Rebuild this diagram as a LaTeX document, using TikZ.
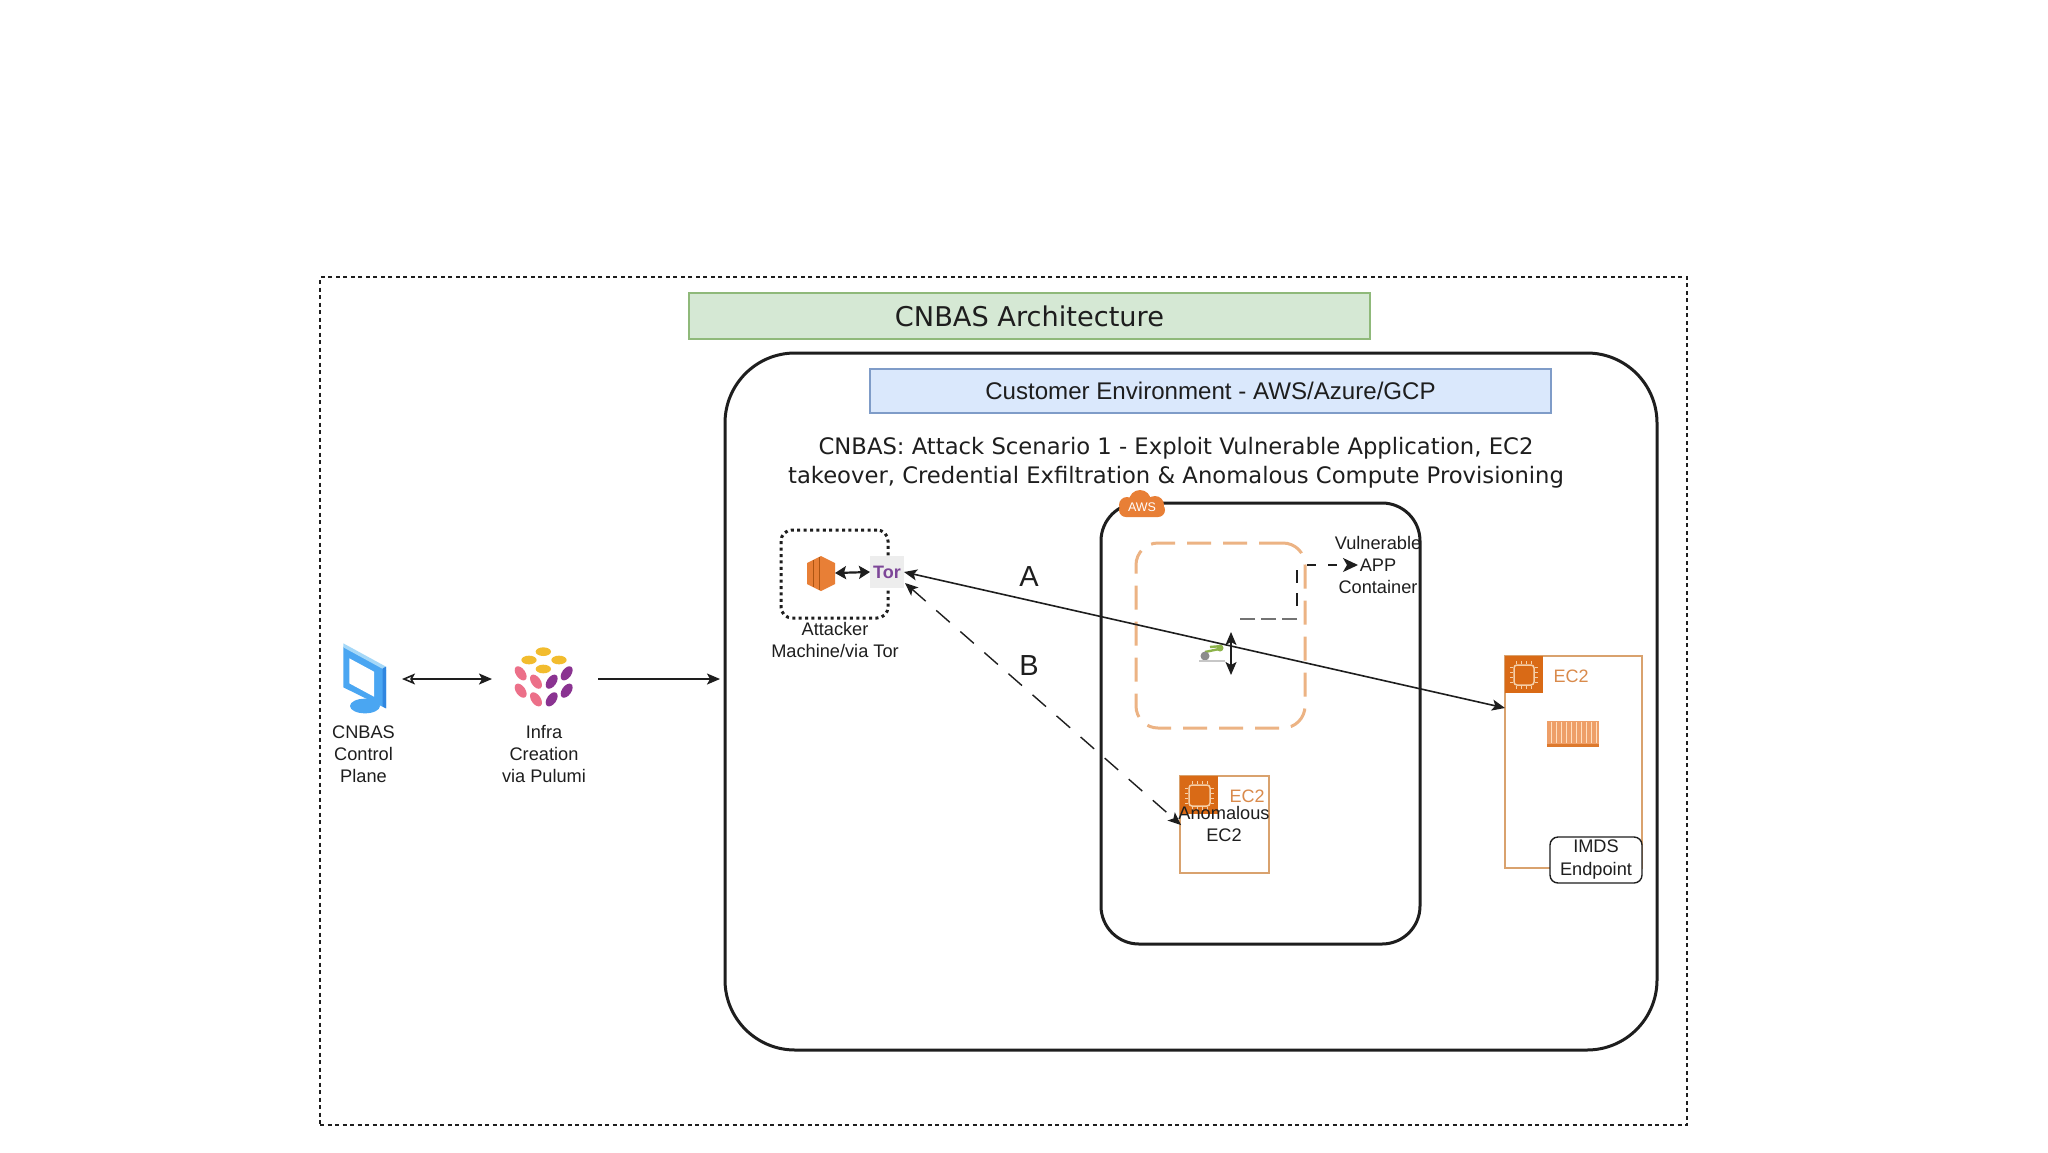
\documentclass[tikz,border=0pt]{standalone}
\usepackage{fontspec}
\setmainfont{Liberation Sans}
\newfontfamily\dvfont{DejaVu Sans}
\usetikzlibrary{arrows.meta}
\definecolor{ink}{HTML}{1E1E1E}
\definecolor{awsorange}{HTML}{D96A16}
\definecolor{softorange}{HTML}{D9A26E}
\definecolor{ec2text}{HTML}{D98A4B}
\definecolor{chipline}{HTML}{F5CFA8}
\definecolor{dashorange}{HTML}{ECB384}
\definecolor{cloudorange}{HTML}{E87F36}
\definecolor{greenfill}{HTML}{D5E8D4}
\definecolor{greenline}{HTML}{8FB97A}
\definecolor{bluefill}{HTML}{DAE8FC}
\definecolor{blueline}{HTML}{7F9CC8}
\definecolor{torpurple}{HTML}{7D4698}
\definecolor{pulyellow}{HTML}{F2BC2E}
\definecolor{pulpink}{HTML}{EC7089}
\definecolor{pulpurple}{HTML}{8A3391}
\definecolor{monframe}{HTML}{4AA6F2}
\definecolor{monedge}{HTML}{A5D8F8}
\definecolor{monside}{HTML}{2F86E0}
\definecolor{keygreen}{HTML}{8DB34A}
\tikzset{
  x=1pt,y=-1pt,
  box/.style={draw=#1,outer sep=0pt,inner sep=0pt},
  txt/.style={inner sep=0pt,outer sep=0pt,align=center,text=ink,font=\fontsize{18.2}{22}\selectfont},
  conn/.style={draw=ink,line width=1.6pt},
  tip/.style={-{Stealth[length=13pt,width=11pt,inset=3pt]}},
  bothtips/.style={{Stealth[length=13pt,width=11pt,inset=3pt]}-{Stealth[length=13pt,width=11pt,inset=3pt]}},
}
\begin{document}
\begin{tikzpicture}
\useasboundingbox[fill=white] (0,0) rectangle (2048,1152);

% frames
\node[box=ink,line width=1.1pt,dash pattern=on 4pt off 3.5pt,minimum width=1367pt,minimum height=848pt] (outer) at (1003.5,701) {};
\node[box=greenline,fill=greenfill,line width=1.3pt,minimum width=681pt,minimum height=46pt,font=\dvfont\fontsize{27.2}{30}\selectfont,text=ink] (title) at (1029.5,316) {CNBAS Architecture};
\node[box=ink,line width=3pt,rounded corners=70pt,minimum width=932pt,minimum height=697pt] (cust) at (1191,701.5) {};
\node[box=blueline,fill=bluefill,line width=1.3pt,minimum width=681pt,minimum height=44pt,font=\fontsize{24.1}{30}\selectfont,text=ink] (custbar) at (1210.5,391) {Customer Environment - AWS/Azure/GCP};
\node[txt,font=\dvfont\fontsize{22.7}{29}\selectfont] (scenario) at (1176,463) {CNBAS: Attack Scenario 1 - Exploit Vulnerable Application, EC2\\takeover, Credential Exfiltration \& Anomalous Compute Provisioning};
\node[box=ink,line width=3pt,rounded corners=38pt,minimum width=319pt,minimum height=441pt] (awsbox) at (1260.5,723.5) {};
\node[box=dashorange,line width=3pt,dash pattern=on 24pt off 12pt,rounded corners=22pt,minimum width=169pt,minimum height=185pt] (vuln) at (1220.5,635.5) {};

% AWS cloud
\fill[cloudorange,rounded corners=7pt] (1119,503) rectangle (1165,517);
\fill[cloudorange] (1140,501) circle (11) (1127,505) circle (8) (1155,505) circle (9);
\node[inner sep=0pt,text=white,font=\fontsize{12.5}{14}\selectfont] (awslabel) at (1142,507) {AWS};

% Control plane icon
\begin{scope}[shift={(300,600)},scale=1/3]
  \fill[monframe] (195,318) ellipse (45 and 22);
  \fill[monframe] (130,140) -- (258,210) -- (258,325) -- (130,262) -- cycle;
  \fill[monedge] (130,130) -- (258,200) -- (258,212) -- (130,142) -- cycle;
  \fill[monside] (248,205) -- (258,200) -- (258,325) -- (248,320) -- cycle;
  \fill[white] (148,175) -- (222,215) -- (222,290) -- (148,250) -- cycle;
\end{scope}
\node[minimum width=44pt,minimum height=70pt,inner sep=0pt,outer sep=0pt] (cpicon) at (365,678) {};
\node[txt] (cplabel) at (363.5,754) {CNBAS\\Control\\Plane};

% Pulumi icon
\begin{scope}[shift={(300,600)},scale=1/3]
  \foreach \p in {(730,155),(687,180),(777,180),(730,207)}
    \fill[pulyellow] \p ellipse (23 and 13);
  \foreach \p in {(662,220),(708,245),(662,272),(708,298)}
    \fill[pulpink,shift={\p},rotate=-55] (0,0) ellipse (24 and 14);
  \foreach \p in {(800,220),(755,245),(800,272),(755,298)}
    \fill[pulpurple,shift={\p},rotate=55] (0,0) ellipse (24 and 14);
\end{scope}
\node[minimum width=60pt,minimum height=62pt,inner sep=0pt,outer sep=0pt] (pulicon) at (544,677) {};
\node[txt] (pullabel) at (544,754) {Infra\\Creation\\via Pulumi};

% Attacker
\node[box=ink,line width=3pt,dash pattern=on 3pt off 3.4pt,rounded corners=11pt,minimum width=107pt,minimum height=88pt] (attacker) at (834.5,574) {};
\node[minimum width=28pt,minimum height=34pt,inner sep=0pt,outer sep=0pt] (hex) at (821,573) {};
\fill[cloudorange] (807,563) -- (821,556) -- (835,563) -- (835,584) -- (821,591) -- (807,584) -- cycle;
\draw[awsorange!80!black,line width=1pt] (813,560) -- (813,587) (819,557) -- (819,590);
\node[fill=black!7,inner sep=0pt,outer sep=0pt,minimum width=34pt,minimum height=32pt,text=torpurple,font=\bfseries\fontsize{18}{20}\selectfont] (tor) at (887,572) {Tor};
\node[txt] (attlabel) at (835,639.5) {Attacker\\Machine/via Tor};

% Vulnerable label and inner dashed lines
\node[txt] (vulnlabel) at (1378,565) {Vulnerable\\APP\\Container};
\coordinate (vs) at (1307,565);
\coordinate (ve) at (1358,565);
\coordinate (ga) at (1297,570);
\coordinate (gb) at (1297,619);
\coordinate (gc) at (1236,619);
\draw[ink,line width=1.2pt,dash pattern=on 13pt off 10pt] (ga) -- (1297,607);
\draw[black!55,line width=1.8pt,dash pattern=on 15pt off 6pt] (gb) -- (gc);
\draw[conn,dash pattern=on 9pt off 12pt,-{Stealth[length=15pt,width=14pt,inset=4pt]}] (vs) -- (ve);

% small key icon
\draw[keygreen,line width=2.4pt] (1205,652) -- (1219,649) (1210,647) -- (1222,646);
\fill[keygreen] (1220,648) circle (3.5);
\fill[black!45] (1205,656) circle (4.5);
\draw[black!22,line width=1.4pt] (1199,661) -- (1225,661);
\coordinate (ku) at (1231,632);
\coordinate (kd) at (1231,675);
\draw[conn,bothtips] (ku) -- (kd);

% Anomalous EC2
\node[box=softorange,line width=1.4pt,minimum width=89pt,minimum height=97pt] (anom) at (1224.5,824.5) {};
\fill[awsorange] (1180,776) rectangle (1218,814);
\draw[chipline,line width=1.5pt,rounded corners=3pt] (1189,785) rectangle (1210,806);
\foreach \t in {0,5,10,15}{
  \draw[chipline,line width=.7pt] (1192+\t,781) -- (1192+\t,784) (1192+\t,807) -- (1192+\t,810) (1185,788+\t) -- (1188,788+\t) (1211,788+\t) -- (1214,788+\t);
}
\node[inner sep=0pt,text=ec2text,font=\fontsize{18}{20}\selectfont] (anomec) at (1247,796) {EC2};
\node[txt] (anomlabel) at (1224,824) {Anomalous\\EC2};

% Target EC2
\node[box=softorange,line width=1.4pt,minimum width=137pt,minimum height=212pt] (ec2) at (1573.5,762) {};
\fill[awsorange] (1505,656) rectangle (1543,693);
\draw[chipline,line width=1.5pt,rounded corners=3pt] (1514,665) rectangle (1534,685);
\foreach \t in {0,5,10,15}{
  \draw[chipline,line width=.7pt] (1516+\t,661) -- (1516+\t,664) (1516+\t,686) -- (1516+\t,689) (1510,667+\t) -- (1513,667+\t) (1535,667+\t) -- (1538,667+\t);
}
\node[inner sep=0pt,text=ec2text,font=\fontsize{18}{20}\selectfont] (ec2lab) at (1571,676) {EC2};
\fill[cloudorange!75!white] (1547,721) rectangle (1599,744);
\fill[awsorange!90!white] (1547,744) rectangle (1599,747);
\foreach \t in {0,...,9}{
  \draw[white!75!orange,line width=1pt] (1551+5*\t,722) -- (1551+5*\t,743);
}
\node[box=ink,fill=white,line width=1.4pt,rounded corners=8pt,minimum width=92pt,minimum height=46pt,align=center,text=ink,font=\fontsize{18.2}{23}\selectfont] (imds) at (1596,860) {IMDS\\Endpoint};

% connectors
\coordinate (torA) at (tor.east);
\coordinate (torB) at (905,583);
\coordinate (ec2in) at (1505,708);
\coordinate (anomin) at (1181,825);
\draw[conn,bothtips] (torA) -- (ec2in);
\draw[conn,line width=1.4pt,dash pattern=on 18pt off 14pt,bothtips] (torB) -- (anomin);
\draw[conn,line width=2.2pt,{Stealth[length=11pt,width=13pt,inset=2pt]}-{Stealth[length=11pt,width=13pt,inset=2pt]}] (hex.east) -- (tor.west);
\coordinate (c1) at (402,679);
\coordinate (c2) at (492,679);
\coordinate (c3) at (598,679);
\coordinate (c4) at (720,679);
\draw[conn,{Stealth[length=13pt,width=11pt,inset=3pt,fill=white]}-{Stealth[length=13pt,width=11pt,inset=3pt]}] (c1) -- (c2);
\draw[conn,tip] (c3) -- (c4);

\node[txt,font=\fontsize{29}{32}\selectfont] (labA) at (1029,577) {A};
\node[txt,font=\fontsize{29}{32}\selectfont] (labB) at (1029,666) {B};
\end{tikzpicture}
\end{document}
